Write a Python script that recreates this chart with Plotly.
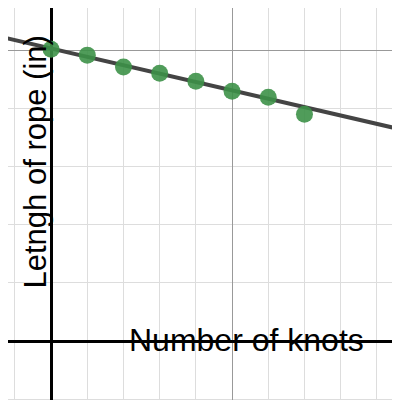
import plotly.graph_objects as go

knots = [0, 1, 2, 3, 4, 5, 6, 7]
length = [10.03, 9.83, 9.42, 9.21, 8.93, 8.59, 8.38, 7.8]
fit_x = [-2, 11]
intercept, slope = 10.06, -0.288
fit_y = [intercept + slope * x for x in fit_x]

fig = go.Figure()
fig.add_trace(go.Scatter(x=fit_x, y=fit_y, mode="lines",
                         line=dict(color="#444444", width=4), hoverinfo="skip"))
fig.add_trace(go.Scatter(x=knots, y=length, mode="markers",
                         marker=dict(color="#3d9148", size=17, opacity=0.9)))

ax = dict(showticklabels=False, zeroline=True, zerolinecolor="black", zerolinewidth=2.5,
          showgrid=True, gridcolor="#999999", gridwidth=1,
          minor=dict(showgrid=True, gridcolor="#dddddd", gridwidth=1), ticks="")
fig.update_layout(
    width=400, height=400, margin=dict(l=0, r=0, t=0, b=0),
    plot_bgcolor="white", paper_bgcolor="white", showlegend=False,
    xaxis=dict(range=[-1.19, 9.86], dtick=5, minor_dtick=1, **ax),
    yaxis=dict(range=[-2.30, 11.45], dtick=10, minor_dtick=2, **ax),
    font=dict(family="Liberation Sans, Arial, sans-serif", color="black"),
    annotations=[
        dict(text="Number of knots", x=0.595, y=0.12, xref="paper", yref="paper",
             showarrow=False, font=dict(size=32)),
        dict(text="Letngh of rope (in)", x=0.0175, y=0.615, xref="paper", yref="paper",
             textangle=-90, showarrow=False, font=dict(size=31)),
    ],
)
fig.write_html("out.html")
